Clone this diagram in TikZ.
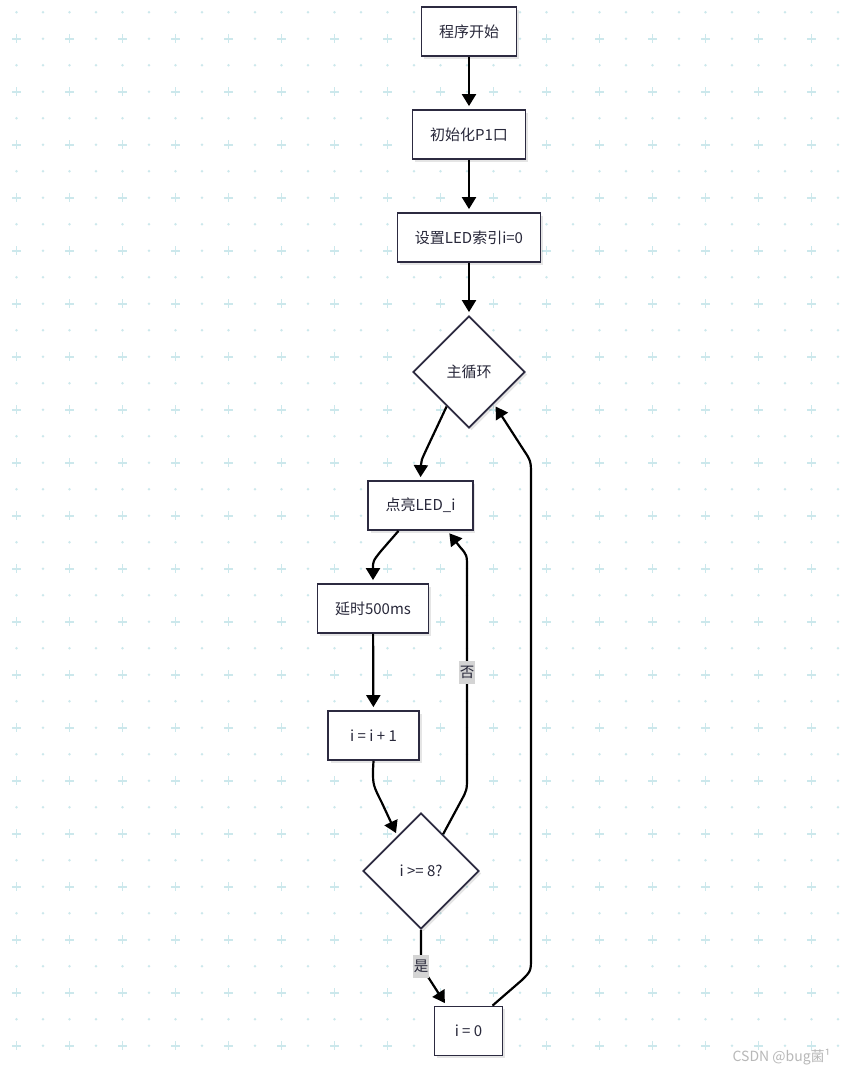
\documentclass[tikz,border=0pt]{standalone}
\usepackage{fontspec}
\setmainfont{Noto Sans CJK SC}
\usetikzlibrary{shapes.geometric,arrows.meta,shadows}
\definecolor{nodeline}{RGB}{44,42,64}
\definecolor{txt}{RGB}{40,40,58}
\definecolor{gridc}{RGB}{204,232,236}
\definecolor{lblgray}{RGB}{212,212,212}

\begin{document}
\begin{tikzpicture}[x=1pt,y=-1pt]
	\tikzstyle{process}=[rectangle,draw=nodeline,line width=1.8pt,fill=white,text=txt,inner xsep=17.5pt,minimum height=49pt,font=\fontsize{15}{18}\selectfont,drop shadow={shadow xshift=2.5pt,shadow yshift=-2.5pt,fill=black,opacity=0.1}]
	\tikzstyle{decision}=[diamond,aspect=1,draw=nodeline,line width=1.8pt,fill=white,text=txt,inner sep=0pt,font=\fontsize{15}{18}\selectfont,drop shadow={shadow xshift=2.5pt,shadow yshift=-2.5pt,fill=black,opacity=0.1}]
	\tikzstyle{flow}=[-{Triangle[length=12pt,width=14pt]},line width=2.2pt,shorten >=3pt]
	\tikzstyle{elabel}=[fill=lblgray,text=txt,inner sep=0.5pt,minimum height=23pt,font=\fontsize{14.5}{16}\selectfont]
	
	% background
	\useasboundingbox (0,0) rectangle (844,1072);
	\fill[white] (0,0) rectangle (844,1072);
	\foreach \i in {0,...,31}
		\foreach \j in {0,2,...,38}
			\fill[gridc] ({16.5+26.5*\i},{12.3+26.5*\j}) circle (1.4pt);
	\foreach \i in {1,3,...,31}
		\foreach \j in {1,3,...,39}
			\fill[gridc] ({16.5+26.5*\i},{12.3+26.5*\j}) circle (1.4pt);
	\foreach \i in {0,2,...,30}
		\foreach \j in {1,3,...,39}
			\draw[gridc,line width=1.8pt] ({16.5+26.5*\i-4.5},{12.3+26.5*\j}) -- ++(9,0) ({16.5+26.5*\i},{12.3+26.5*\j-4.5}) -- ++(0,9);
	
	\node[process] at (469,31.5) (start) {程序开始};
	\node[process] at (469,134.5) (init) {初始化P1口};
	\node[process] at (469,237.5) (idx) {设置LED索引i=0};
	\node[decision,minimum size=112pt] at (469,372) (loop) {主循环};
	\node[process] at (420.5,505.5) (on) {点亮LED\_i};
	\node[process] at (373,608.5) (wait) {延时500ms};
	\node[process,minimum width=91pt] at (373.5,735.5) (inc) {i = i + 1};
	\node[decision,minimum size=116pt] at (421,871) (chk) {i >= 8?};
	\node[process,minimum width=68pt] at (468.5,1031) (rst) {i = 0};
	
	\draw[flow] (start) -- (init);
	\draw[flow] (init) -- (idx);
	\draw[flow] (idx) -- (loop);
	\draw[flow] (loop.237) -- (428,446) .. controls (421,461) .. (on.north);
	\draw[flow] ([xshift=-22pt]on.south) -- (381,551) .. controls (373,561) .. (wait.north);
	\draw[flow] (wait) -- (inc);
	\draw[flow] (inc.south) -- (373,770) .. controls (373,785) .. (382,803) -- (chk.124);
	\draw[flow] (chk.59) -- (461,801) .. controls (467,790) .. (467,776) -- node[elabel] (no) {否} (467,568) .. controls (467,555) .. (460,547) -- ([xshift=27pt]on.south);
	\draw[flow] (chk.south) -- (421,966) node[elabel] (yes) {是} -- ([xshift=-22pt]rst.north);
	\draw[flow] ([xshift=24pt]rst.north) -- (522,980) .. controls (531,971) .. (531,957) -- (531,476) .. controls (531,461) .. (523,449) -- (loop.-52);
	
	\node[anchor=east,text=black!28,font=\fontsize{14}{16}\selectfont] at (834,1057) (mark) {CSDN @bug菌¹};
\end{tikzpicture}
\end{document}
